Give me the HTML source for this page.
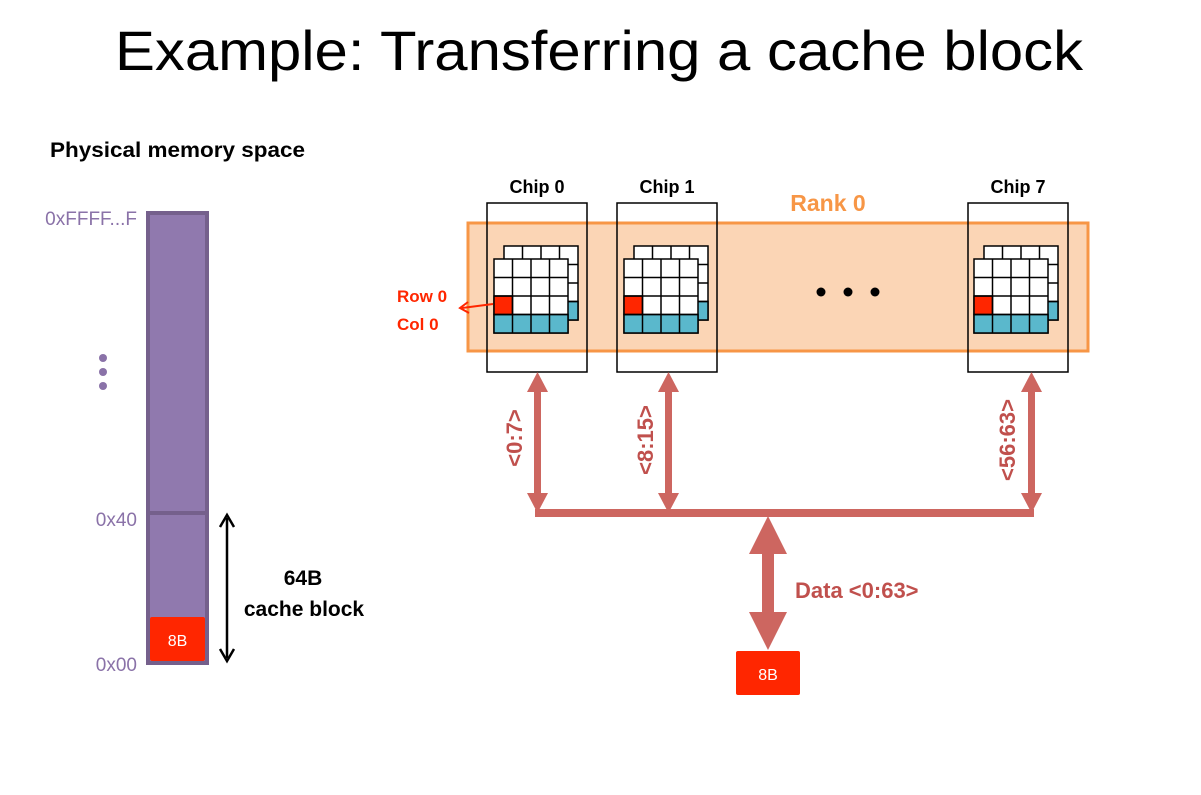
<!DOCTYPE html>
<html><head><meta charset="utf-8"><style>
html,body{margin:0;padding:0;background:#fff;}
svg{display:block;}
text{font-family:"Liberation Sans",sans-serif;}
</style></head><body>
<svg width="1201" height="795" viewBox="0 0 1201 795" xmlns="http://www.w3.org/2000/svg">
<defs>
<g id="grid">
  <g transform="translate(10,-13)" stroke="#000" stroke-width="1.5">
    <rect x="0" y="0" width="74" height="74" fill="#fff"/>
    <rect x="0" y="55.5" width="74" height="18.5" fill="#5ab8cc"/>
    <line x1="18.5" y1="0" x2="18.5" y2="74"/><line x1="37" y1="0" x2="37" y2="74"/><line x1="55.5" y1="0" x2="55.5" y2="74"/>
    <line x1="0" y1="18.5" x2="74" y2="18.5"/><line x1="0" y1="37" x2="74" y2="37"/><line x1="0" y1="55.5" x2="74" y2="55.5"/>
  </g>
  <g stroke="#000" stroke-width="1.5">
    <rect x="0" y="0" width="74" height="74" fill="#fff"/>
    <rect x="0" y="55.5" width="74" height="18.5" fill="#5ab8cc"/>
    <rect x="0" y="37" width="18.5" height="18.5" fill="#ff2600"/>
    <line x1="18.5" y1="0" x2="18.5" y2="74"/><line x1="37" y1="0" x2="37" y2="74"/><line x1="55.5" y1="0" x2="55.5" y2="74"/>
    <line x1="0" y1="18.5" x2="74" y2="18.5"/><line x1="0" y1="37" x2="74" y2="37"/><line x1="0" y1="55.5" x2="74" y2="55.5"/>
  </g>
</g>
</defs>

<text x="115" y="70" font-size="56" textLength="968" lengthAdjust="spacingAndGlyphs">Example: Transferring a cache block</text>
<text x="50" y="157" font-size="21" font-weight="bold" textLength="255" lengthAdjust="spacingAndGlyphs">Physical memory space</text>

<rect x="148" y="213" width="59" height="450" fill="#9079ae" stroke="#75608c" stroke-width="4"/>
<line x1="148" y1="513" x2="207" y2="513" stroke="#75608c" stroke-width="4"/>
<rect x="150" y="617" width="55" height="44" rx="2" fill="#ff2600"/>
<text x="177.5" y="646" font-size="16" fill="#fff" text-anchor="middle">8B</text>
<g fill="#8a72a8" font-size="19">
<text x="137" y="225" text-anchor="end">0xFFFF...F</text>
<text x="137" y="526" text-anchor="end">0x40</text>
<text x="137" y="671" text-anchor="end">0x00</text>
</g>
<circle cx="103" cy="358" r="4" fill="#8a72a8"/><circle cx="103" cy="372" r="4" fill="#8a72a8"/><circle cx="103" cy="386" r="4" fill="#8a72a8"/>
<line x1="227" y1="518" x2="227" y2="658" stroke="#000" stroke-width="2.5"/>
<polyline points="220,527 227,515 234,527" fill="none" stroke="#000" stroke-width="2.5"/>
<polyline points="220,649 227,661 234,649" fill="none" stroke="#000" stroke-width="2.5"/>
<text x="303" y="585" font-size="21" font-weight="bold" text-anchor="middle">64B</text>
<text x="304" y="616" font-size="21" font-weight="bold" text-anchor="middle">cache block</text>

<rect x="468" y="223" width="620" height="128" fill="#fbd5b5" stroke="#f79646" stroke-width="3"/>
<text x="828" y="211" font-size="23" font-weight="bold" fill="#f79646" text-anchor="middle">Rank 0</text>

<g fill="none" stroke="#000" stroke-width="1.5">
<rect x="487" y="203" width="100" height="169"/>
<rect x="617" y="203" width="100" height="169"/>
<rect x="968" y="203" width="100" height="169"/>
</g>
<g font-size="18" font-weight="bold" text-anchor="middle">
<text x="537" y="193">Chip 0</text>
<text x="667" y="193">Chip 1</text>
<text x="1018" y="193">Chip 7</text>
</g>
<use href="#grid" x="494" y="259"/>
<use href="#grid" x="624" y="259"/>
<use href="#grid" x="974" y="259"/>
<circle cx="821" cy="292" r="4.5"/><circle cx="848" cy="292" r="4.5"/><circle cx="875" cy="292" r="4.5"/>

<g font-size="17" font-weight="bold" fill="#ff2600">
<text x="397" y="302">Row 0</text>
<text x="397" y="330">Col 0</text>
</g>
<line x1="462" y1="308" x2="493" y2="304" stroke="#ff2600" stroke-width="2"/>
<polyline points="468,302 460,308 469,313" fill="none" stroke="#ff2600" stroke-width="2"/>

<g fill="#cd6660" stroke="none">
<rect x="534" y="385" width="7" height="118"/>
<polygon points="537.5,372 527,392 548,392"/>
<polygon points="537.5,513 527,493 548,493"/>
<rect x="665" y="385" width="7" height="118"/>
<polygon points="668.5,372 658,392 679,392"/>
<polygon points="668.5,513 658,493 679,493"/>
<rect x="1028" y="385" width="7" height="118"/>
<polygon points="1031.5,372 1021,392 1042,392"/>
<polygon points="1031.5,513 1021,493 1042,493"/>
<rect x="535" y="509" width="499" height="8"/>
<rect x="762" y="550" width="12" height="70"/>
<polygon points="768,516 749,554 787,554"/>
<polygon points="768,650 749,612 787,612"/>
</g>
<g font-size="22" font-weight="bold" fill="#c0504d" text-anchor="middle">
<text transform="translate(522,438) rotate(-90)">&lt;0:7&gt;</text>
<text transform="translate(653,440) rotate(-90)">&lt;8:15&gt;</text>
<text transform="translate(1015,440) rotate(-90)">&lt;56:63&gt;</text>
</g>
<text x="795" y="598" font-size="22" font-weight="bold" fill="#c0504d">Data &lt;0:63&gt;</text>
<rect x="736" y="651" width="64" height="44" rx="2" fill="#ff2600"/>
<text x="768" y="680" font-size="16" fill="#fff" text-anchor="middle">8B</text>
</svg>
</body></html>
